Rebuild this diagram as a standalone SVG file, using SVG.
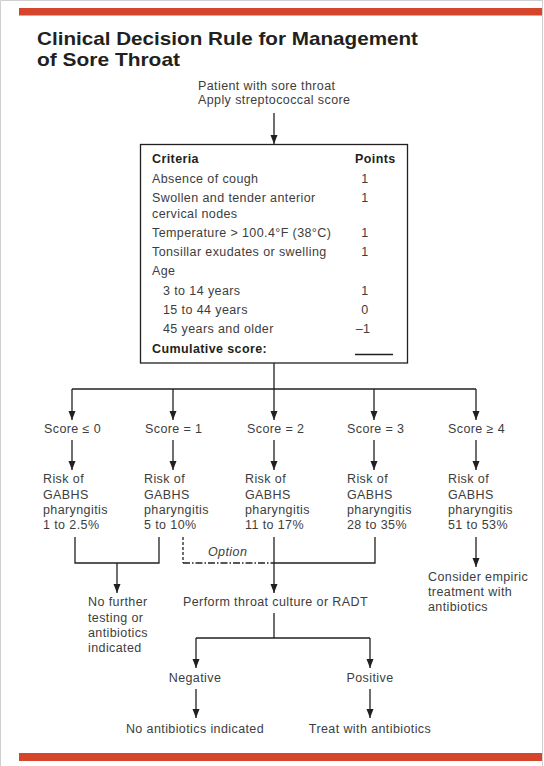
<svg xmlns="http://www.w3.org/2000/svg" width="544" height="766" viewBox="0 0 544 766">
<style>
  text { font-family: "Liberation Sans", Arial, sans-serif; font-size: 12.5px; letter-spacing: 0.4px; fill: #3d3d3d; }
  .title { font-size: 18.5px; font-weight: bold; letter-spacing: 0; fill: #231f20; }
  .b { font-weight: bold; fill: #231f20; }
  .c { text-anchor: middle; }
  .it { font-style: italic; }
  .ln { stroke: #231f20; stroke-width: 1.3; fill: none; }
  .arr { stroke: #231f20; stroke-width: 1.3; fill: none; marker-end: url(#ah); }
</style>
<defs>
  <marker id="ah" markerWidth="10" markerHeight="8" refX="9" refY="3.5" orient="auto" markerUnits="userSpaceOnUse">
    <path d="M0,0 L9,3.5 L0,7 z" fill="#231f20"/>
  </marker>
</defs>
<rect width="544" height="766" fill="#ffffff"/>
<path d="M0.5,766 V0.5 H542.5 V766" stroke="#cfcfcf" stroke-width="1" fill="none"/>
<rect x="19" y="8" width="523" height="7.5" fill="#d5452c"/>
<rect x="19" y="753" width="523" height="8" fill="#d5452c"/>

<g id="title">
  <text class="title" x="37" y="45" textLength="381" lengthAdjust="spacingAndGlyphs">Clinical Decision Rule for Management</text>
  <text class="title" x="37" y="66" textLength="143" lengthAdjust="spacingAndGlyphs">of Sore Throat</text>
</g>

<g id="start">
  <text x="198" y="90">Patient with sore throat</text>
  <text x="198" y="104">Apply streptococcal score</text>
</g>

<g id="criteria">
  <rect x="140.5" y="144.5" width="267" height="218.5" class="ln"/>
  <text class="b" x="152" y="163">Criteria</text>
  <text class="b" x="355" y="163">Points</text>
  <text x="152" y="183">Absence of cough</text><text class="c" x="365" y="183">1</text>
  <text x="152" y="202">Swollen and tender anterior</text><text class="c" x="365" y="202">1</text>
  <text x="152" y="218">cervical nodes</text>
  <text x="152" y="237">Temperature &gt; 100.4°F (38°C)</text><text class="c" x="365" y="237">1</text>
  <text x="152" y="256">Tonsillar exudates or swelling</text><text class="c" x="365" y="256">1</text>
  <text x="152" y="275">Age</text>
  <text x="163" y="295">3 to 14 years</text><text class="c" x="365" y="295">1</text>
  <text x="163" y="314">15 to 44 years</text><text class="c" x="365" y="314">0</text>
  <text x="163" y="333">45 years and older</text><text class="c" x="363" y="333">–1</text>
  <text class="b" x="152" y="353">Cumulative score:</text>
  <line x1="355" y1="354.5" x2="393" y2="354.5" class="ln"/>
</g>

<g id="score0"><text x="44" y="433">Score ≤ 0</text></g>
<g id="score1"><text x="145" y="433">Score = 1</text></g>
<g id="score2"><text x="247" y="433">Score = 2</text></g>
<g id="score3"><text x="347" y="433">Score = 3</text></g>
<g id="score4"><text x="448" y="433">Score ≥ 4</text></g>

<g id="risk0"><text x="43" y="483">Risk of</text><text x="43" y="499">GABHS</text><text x="43" y="514">pharyngitis</text><text x="43" y="529">1 to 2.5%</text></g>
<g id="risk1"><text x="144" y="483">Risk of</text><text x="144" y="499">GABHS</text><text x="144" y="514">pharyngitis</text><text x="144" y="529">5 to 10%</text></g>
<g id="risk2"><text x="245" y="483">Risk of</text><text x="245" y="499">GABHS</text><text x="245" y="514">pharyngitis</text><text x="245" y="529">11 to 17%</text></g>
<g id="risk3"><text x="347" y="483">Risk of</text><text x="347" y="499">GABHS</text><text x="347" y="514">pharyngitis</text><text x="347" y="529">28 to 35%</text></g>
<g id="risk4"><text x="448" y="483">Risk of</text><text x="448" y="499">GABHS</text><text x="448" y="514">pharyngitis</text><text x="448" y="529">51 to 53%</text></g>

<g id="nofurther"><text x="88" y="606">No further</text><text x="88" y="622">testing or</text><text x="88" y="637">antibiotics</text><text x="88" y="652">indicated</text></g>
<g id="culture"><text x="183" y="606">Perform throat culture or RADT</text></g>
<g id="empiric"><text x="428" y="581">Consider empiric</text><text x="428" y="596">treatment with</text><text x="428" y="611">antibiotics</text></g>
<g id="negative"><text class="c" x="195" y="682">Negative</text></g>
<g id="positive"><text class="c" x="370" y="682">Positive</text></g>
<g id="noabx"><text class="c" x="195" y="733">No antibiotics indicated</text></g>
<g id="treat"><text class="c" x="370" y="733">Treat with antibiotics</text></g>

<g id="connectors">
  <line x1="274" y1="113" x2="274" y2="144" class="arr"/>
  <line x1="274" y1="363" x2="274" y2="389" class="ln"/>
  <line x1="72" y1="389" x2="476" y2="389" class="ln"/>
  <line x1="72" y1="389" x2="72" y2="420" class="arr"/>
  <line x1="173" y1="389" x2="173" y2="420" class="arr"/>
  <line x1="274" y1="389" x2="274" y2="420" class="arr"/>
  <line x1="374" y1="389" x2="374" y2="420" class="arr"/>
  <line x1="476" y1="389" x2="476" y2="420" class="arr"/>

  <line x1="72" y1="440" x2="72" y2="470" class="arr"/>
  <line x1="173" y1="440" x2="173" y2="470" class="arr"/>
  <line x1="274" y1="440" x2="274" y2="470" class="arr"/>
  <line x1="374" y1="440" x2="374" y2="470" class="arr"/>
  <line x1="476" y1="440" x2="476" y2="470" class="arr"/>

  <path d="M75,537 V563 H159 V537" class="ln"/>
  <line x1="117" y1="563" x2="117" y2="593" class="arr"/>
  <line x1="183" y1="537" x2="183" y2="563" class="ln" stroke-dasharray="3 2"/>
  <line x1="183" y1="563" x2="274" y2="563" class="ln" stroke-dasharray="7 2 1.5 2"/>
  <path d="M274,563 H375 V537" class="ln"/>
  <line x1="274" y1="537" x2="274" y2="593" class="arr"/>
  <text class="it" x="208" y="556">Option</text>
  <line x1="476" y1="537" x2="476" y2="567" class="arr"/>

  <line x1="274" y1="613" x2="274" y2="638" class="ln"/>
  <line x1="196" y1="638" x2="370" y2="638" class="ln"/>
  <line x1="196" y1="638" x2="196" y2="668" class="arr"/>
  <line x1="370" y1="638" x2="370" y2="668" class="arr"/>
  <line x1="196" y1="689" x2="196" y2="718" class="arr"/>
  <line x1="370" y1="689" x2="370" y2="718" class="arr"/>
</g>
</svg>
